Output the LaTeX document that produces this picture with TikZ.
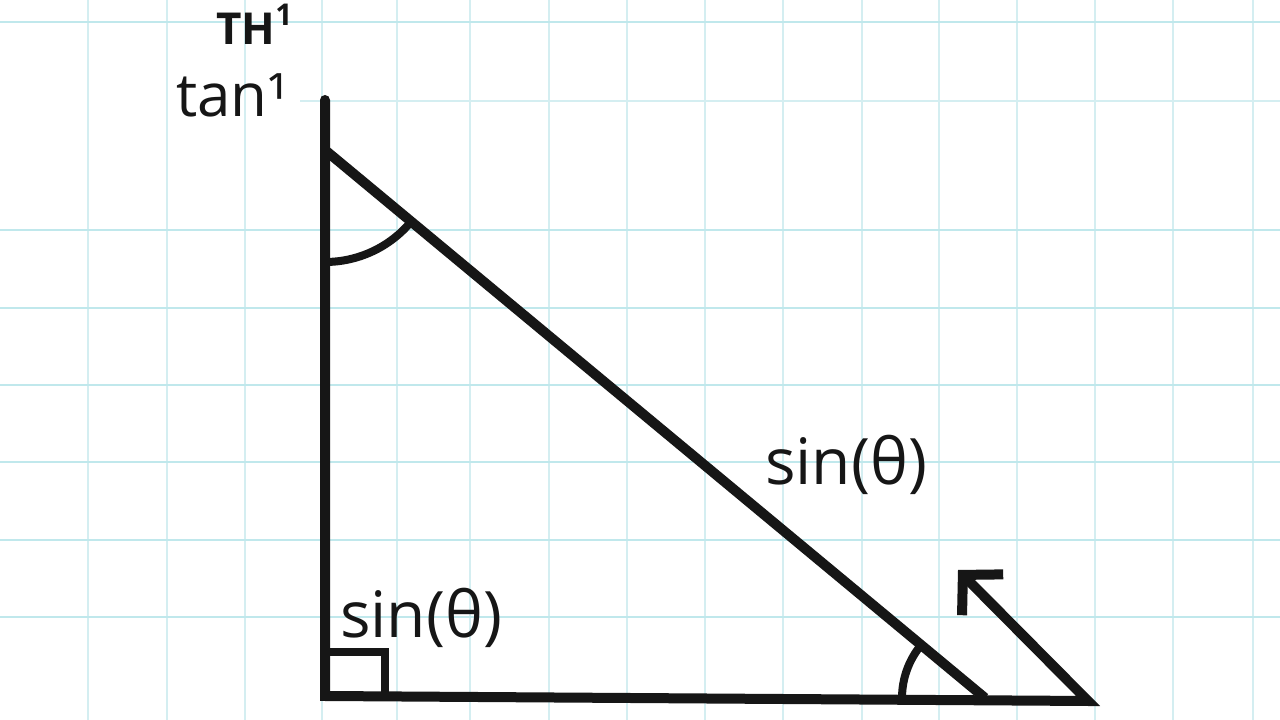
\documentclass[tikz,border=0pt]{standalone}
\usepackage{fontspec}
\setmainfont{Open Sans}
\usetikzlibrary{angles,arrows.meta}
\definecolor{gridcyan}{RGB}{192,232,236}
\definecolor{gridpale}{RGB}{212,238,241}
\definecolor{ink}{RGB}{22,22,22}

\begin{document}
\begin{tikzpicture}[x=1pt,y=1pt,
    gridline/.style={gridcyan,line width=1.5pt},
    side/.style={ink,line width=10pt},
    anglearc/.style={draw=ink,line width=8pt},
    lbl/.style={ink,inner sep=0pt,anchor=base west}]
      \useasboundingbox (0,0) rectangle (1280,720);
      \fill[white] (0,0) rectangle (1280,720);
      % squared paper
      \foreach \x in {88,167,245,322,397,470,549,627,705,783,862,939,1017,1095,1173,1253}
        \draw[gridline,gridpale] (\x,0) -- (\x,720);
      \foreach \y in {698,490,412,335,258,180,103}
        \draw[gridline] (0,\y) -- (1280,\y);
      \draw[gridline,gridpale] (300,619) -- (1280,619);
      % triangle
      \coordinate (top) at (325,620);
      \coordinate (A) at (325,570);
      \coordinate (C) at (325,24);
      \coordinate (B) at (985,22);
      \coordinate (E) at (1088,19);
      \coordinate (F) at (958,150);
      \coordinate (sq) at (385,68);
      \draw[side,line cap=round,-{Straight Barb[length=28pt,width=58pt]}] (top) -- (C) -- (E) -- (F);
      \draw[side] (A) -- (B);
      \draw[ink,line width=8pt] (C) rectangle (sq);
      \pic[anglearc,angle radius=112pt] {angle=C--A--B};
      \pic[anglearc,angle radius=83pt] {angle=A--B--C};
      % labels
      \node[lbl,font=\bfseries\fontsize{44}{44}\selectfont] (th) at (216,675) {TH\raisebox{19pt}{\fontsize{30}{30}\selectfont 1}};
      \node[lbl,font=\fontsize{60}{60}\selectfont] (tan) at (176,603) {tan¹};
      \node[lbl,font=\fontsize{64}{64}\selectfont] (hyplabel) at (765,235) {sin(θ)};
      \node[lbl,font=\fontsize{64}{64}\selectfont] (leglabel) at (340,82) {sin(θ)};
\end{tikzpicture}
\end{document}
